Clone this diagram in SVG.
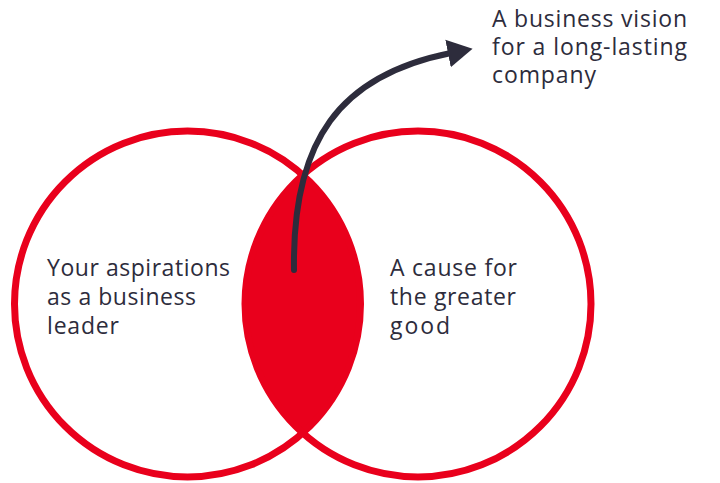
<svg xmlns="http://www.w3.org/2000/svg" width="720" height="483" viewBox="0 0 720 483">
  <style>
    .ring { fill: none; stroke: #E9001C; stroke-width: 7; }
    .lens { fill: #E9001C; }
    .lbl { font-family: "Open Sans", Lato, "Liberation Sans", sans-serif; font-size: 23px; fill: #2D2C3C; }
    .conn { fill: none; stroke: #2D2C3C; stroke-width: 6; stroke-linecap: round; }
  </style>
  <defs>
    <marker id="head" markerUnits="userSpaceOnUse" viewBox="0 0 26 30" refX="3" refY="15" markerWidth="26" markerHeight="30" orient="auto">
      <path d="M0,1 L25,15 L0,29 Z" fill="#2D2C3C"/>
    </marker>
  </defs>
  <rect width="720" height="483" fill="#FFFFFF"/>
  <g id="overlap">
    <path class="lens" d="M302.75,175 A173,173 0 0 1 302.75,433 A173,173 0 0 1 302.75,175 Z"/>
  </g>
  <g id="aspirations">
    <circle class="ring" cx="187.5" cy="304" r="173"/>
    <text class="lbl" x="47" y="276" textLength="183" lengthAdjust="spacing">Your aspirations</text>
    <text class="lbl" x="47" y="305" textLength="149" lengthAdjust="spacing">as a business</text>
    <text class="lbl" x="47" y="334" textLength="72" lengthAdjust="spacing">leader</text>
  </g>
  <g id="cause">
    <circle class="ring" cx="418" cy="304" r="173"/>
    <text class="lbl" x="390" y="276" textLength="127" lengthAdjust="spacing">A cause for</text>
    <text class="lbl" x="390" y="305" textLength="126" lengthAdjust="spacing">the greater</text>
    <text class="lbl" x="390" y="334" textLength="60" lengthAdjust="spacing">good</text>
  </g>
  <g id="vision">
    <text class="lbl" x="492" y="27" textLength="195" lengthAdjust="spacing">A business vision</text>
    <text class="lbl" x="492" y="55" textLength="195" lengthAdjust="spacing">for a long-lasting</text>
    <text class="lbl" x="492" y="83" textLength="104" lengthAdjust="spacing">company</text>
  </g>
  <g id="connectors">
    <path class="conn" d="M294,270 C292,140 340,75 451,53" marker-end="url(#head)"/>
  </g>
</svg>
